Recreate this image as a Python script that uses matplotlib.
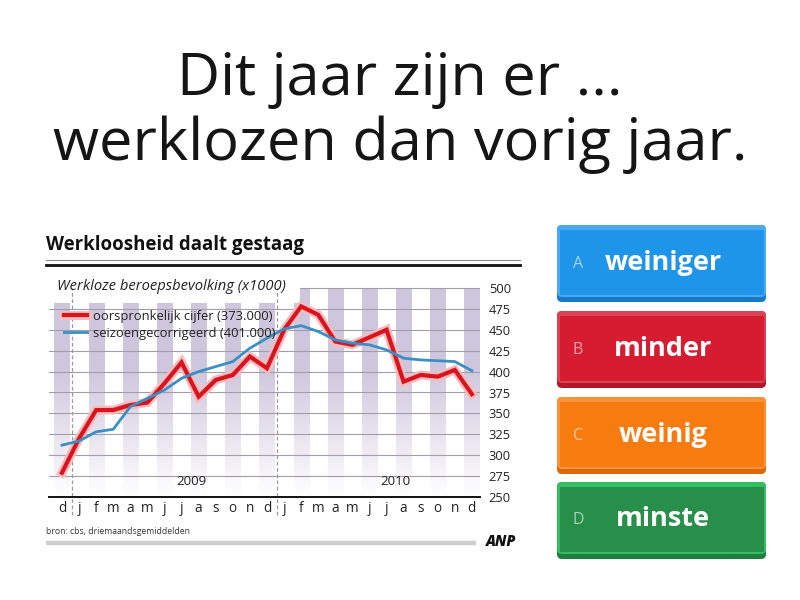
import numpy as np
import matplotlib
matplotlib.use('Agg')
import matplotlib.pyplot as plt
from matplotlib.patches import FancyBboxPatch, Rectangle
import matplotlib.patheffects as pe

# ---------------- data ----------------
months = ['d', 'j', 'f', 'm', 'a', 'm', 'j', 'j', 'a', 's', 'o', 'n', 'd',
          'j', 'f', 'm', 'a', 'm', 'j', 'j', 'a', 's', 'o', 'n', 'd']
original = [279, 320, 354, 354, 360, 363, 386, 411, 370, 390, 396, 418, 404,
            450, 478, 468, 436, 432, 441, 450, 388, 396, 394, 402, 373]
seasonal = [312, 317, 328, 331, 358, 368, 378, 392, 400, 406, 412, 428, 440,
            451, 455, 448, 438, 434, 432, 426, 416, 414, 413, 412, 401]
yticks = [250, 275, 300, 325, 350, 375, 400, 425, 450, 475, 500]
years = ['2009', '2010']
legend_labels = ['oorspronkelijk cijfer (373.000)', 'seizoengecorrigeerd (401.000)']

question = ['Dit jaar zijn er ...', 'werklozen dan vorig jaar.']
answers = ['weiniger', 'minder', 'weinig', 'minste']
letters = ['A', 'B', 'C', 'D']
btn_main = ['#1f95ea', '#d61c31', '#f67c10', '#288f4b']
btn_light = ['#4aa9f0', '#dd4254', '#f9923a', '#35bd62']
btn_dark = ['#1878c6', '#b0172a', '#d9680b', '#1f7d3e']

W, H = 800, 600
fig = plt.figure(figsize=(8, 6), dpi=100)
fig.patch.set_facecolor('white')

FONT = ['Open Sans', 'DejaVu Sans']

# ---------------- overlay (pixel coordinates) ----------------
ov = fig.add_axes([0, 0, 1, 1])
ov.set_xlim(0, W)
ov.set_ylim(H, 0)
ov.axis('off')

ov.text(400, 80, question[0], ha='center', va='center', fontsize=42.8,
        family=FONT, color='#151515')
ov.text(400, 145, question[1], ha='center', va='center', fontsize=42.8,
        family=FONT, color='#151515')

# buttons
bx, bw, bh = 557, 209, 77
btn_tops = [225, 311, 397, 482]
for i, top in enumerate(btn_tops):
    ov.add_patch(FancyBboxPatch((bx, top), bw, bh,
                 boxstyle='round,pad=0,rounding_size=5',
                 fc=btn_dark[i], ec='none'))
    ov.add_patch(FancyBboxPatch((bx, top), bw, bh - 5,
                 boxstyle='round,pad=0,rounding_size=5',
                 fc=btn_light[i], ec='none'))
    ov.add_patch(Rectangle((bx + 2.5, top + 5), bw - 5, bh - 12,
                 fc=btn_main[i], ec='none'))
    cy = top + bh / 2
    ov.text(578, cy, letters[i], ha='center', va='center', fontsize=11.5,
            family=FONT, color='white', alpha=0.6)
    ov.text(663, cy - 1, answers[i], ha='center', va='center', fontsize=19.5,
            family=FONT, weight='bold', color='white')

# chart header
ov.text(46, 245, 'Werkloosheid daalt gestaag', ha='left', va='center',
        fontsize=13.4, family=FONT, weight='bold', color='#111111')
ov.plot([46, 520], [260, 260], color='#8a8a8a', lw=0.8)
ov.plot([46, 520], [264.5, 264.5], color='#111111', lw=2.0)

# footer
ov.text(46, 532, 'bron: cbs, driemaandsgemiddelden', ha='left', va='center',
        fontsize=6.2, family=FONT, color='#333333')
ov.plot([46, 476], [543, 543], color='#cfcfcf', lw=3.2, solid_capstyle='butt')
ov.text(501, 542, 'ANP', ha='center', va='center', fontsize=10.5,
        family=FONT, weight='heavy', style='italic', color='#111111')

# ---------------- chart axes ----------------
x0_px, dx_px = 62.0, 17.08
xlim = (-0.75, 24.5)
ylim = (250, 510)
y250_px, px_per_unit = 497.0, 20.9 / 25.0
left_px = x0_px + xlim[0] * dx_px
right_px = x0_px + xlim[1] * dx_px
top_px = y250_px - (ylim[1] - ylim[0]) * px_per_unit
ax = fig.add_axes([left_px / W, 1 - y250_px / H,
                   (right_px - left_px) / W, (y250_px - top_px) / H])
ax.set_xlim(*xlim)
ax.set_ylim(*ylim)
ax.patch.set_alpha(0)

x = np.arange(len(months))

# gradient stripes
n = 200
alpha = np.clip((np.linspace(0, 1, n)) / 0.62, 0, 1)  # bottom (0) -> top (1)
stripe_rgb = np.array([0.81, 0.78, 0.87])
grad = np.ones((n, 1, 4))
grad[:, 0, :3] = stripe_rgb
grad[:, 0, 3] = alpha
for xi in x[::2]:
    ax.imshow(grad, extent=[xi - 0.44, xi + 0.44, 250, 500], origin='lower',
              aspect='auto', zorder=0, interpolation='bilinear')

for yt in yticks[1:]:
    ax.axhline(yt, color='#a29cab', lw=0.8, zorder=1)

# white box behind subtitle
ax.add_patch(Rectangle((xlim[0], 482), (300 - left_px) / dx_px, 40,
                       fc='white', ec='none', zorder=2))
ax.text(-0.3, 502, 'Werkloze beroepsbevolking (x1000)', ha='left',
        va='center', fontsize=10.6, style='italic', family=FONT,
        color='#222222', zorder=3)

# year dividers
for xv in [0.6, 12.6]:
    ax.vlines(xv, 228, 500, colors='#9a9a9a', linestyles=(0, (3, 2)), lw=0.9,
              clip_on=False, zorder=2)

ax.text(7.6, 268, years[0], ha='center', va='center', fontsize=9.5,
        family=FONT, color='#222222', zorder=3)
ax.text(19.5, 268, years[1], ha='center', va='center', fontsize=9.5,
        family=FONT, color='#222222', zorder=3)

red, = ax.plot(x, original, color='#d9141f', lw=3.0, zorder=5,
               solid_joinstyle='miter',
               path_effects=[pe.Stroke(linewidth=6.5, foreground='#f6bcbe'),
                             pe.Normal()],
               label=legend_labels[0])
blue, = ax.plot(x, seasonal, color='#3a8fc4', lw=2.0, zorder=6,
                label=legend_labels[1])

leg = ax.legend(handles=[red, blue], loc='upper left',
                bbox_to_anchor=(0.022, 0.885), frameon=False,
                prop={'family': FONT, 'size': 9.4}, handlelength=1.75,
                handletextpad=0.5, labelspacing=0.3, borderaxespad=0)
for t in leg.get_texts():
    t.set_color('#222222')
leg.set_zorder(7)

# axes styling
for s in ['top', 'left', 'right']:
    ax.spines[s].set_visible(False)
ax.spines['bottom'].set_color('#111111')
ax.spines['bottom'].set_linewidth(1.4)
ax.spines['bottom'].set_zorder(4)
ax.yaxis.tick_right()
ax.set_yticks(yticks)
ax.set_yticklabels([str(v) for v in yticks])
ax.tick_params(axis='y', length=0, pad=6, labelsize=9.3, labelcolor='#222222')
ax.set_xticks(x)
ax.set_xticklabels(months)
ax.tick_params(axis='x', length=0, pad=3, labelsize=9.8, labelcolor='#222222')
for lab in ax.get_xticklabels() + ax.get_yticklabels():
    lab.set_family(FONT)

fig.savefig('out.png', dpi=100, facecolor='white')
